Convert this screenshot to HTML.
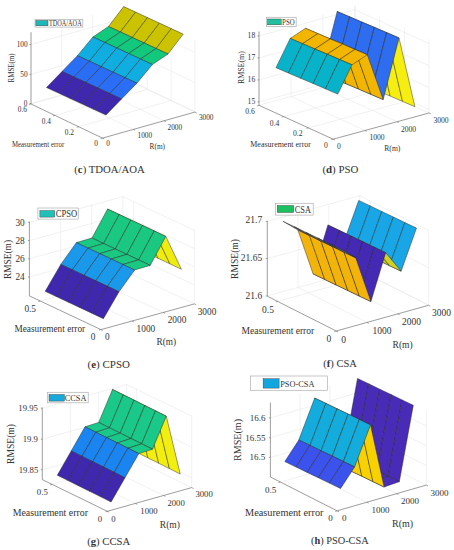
<!DOCTYPE html>
<html><head><meta charset="utf-8"><style>
html,body{margin:0;padding:0;background:#fff;}
svg{display:block;font-family:"Liberation Serif",serif;fill:#262626;}
text{fill:#333;}
</style></head><body>
<svg width="454" height="550" viewBox="0 0 454 550">
<rect width="454" height="550" fill="#fff"/>
<line x1="31.0" y1="103.5" x2="123.4" y2="77.5" stroke="#e8e8e8" stroke-width="0.6"/>
<line x1="123.4" y1="77.5" x2="194.9" y2="111.6" stroke="#e8e8e8" stroke-width="0.6"/>
<line x1="31.0" y1="74.4" x2="123.4" y2="48.4" stroke="#e8e8e8" stroke-width="0.6"/>
<line x1="123.4" y1="48.4" x2="194.9" y2="82.5" stroke="#e8e8e8" stroke-width="0.6"/>
<line x1="31.0" y1="44.5" x2="123.4" y2="18.5" stroke="#e8e8e8" stroke-width="0.6"/>
<line x1="123.4" y1="18.5" x2="194.9" y2="52.6" stroke="#e8e8e8" stroke-width="0.6"/>
<line x1="31.0" y1="104.0" x2="31.0" y2="32.2" stroke="#e8e8e8" stroke-width="0.6"/>
<line x1="102.5" y1="138.1" x2="31.0" y2="104.0" stroke="#e8e8e8" stroke-width="0.6"/>
<line x1="61.8" y1="95.3" x2="61.8" y2="23.5" stroke="#e8e8e8" stroke-width="0.6"/>
<line x1="133.3" y1="129.4" x2="61.8" y2="95.3" stroke="#e8e8e8" stroke-width="0.6"/>
<line x1="92.6" y1="86.7" x2="92.6" y2="14.9" stroke="#e8e8e8" stroke-width="0.6"/>
<line x1="164.1" y1="120.8" x2="92.6" y2="86.7" stroke="#e8e8e8" stroke-width="0.6"/>
<line x1="123.4" y1="78.0" x2="123.4" y2="6.2" stroke="#e8e8e8" stroke-width="0.6"/>
<line x1="194.9" y1="112.1" x2="123.4" y2="78.0" stroke="#e8e8e8" stroke-width="0.6"/>
<line x1="194.9" y1="112.1" x2="194.9" y2="40.3" stroke="#e8e8e8" stroke-width="0.6"/>
<line x1="102.5" y1="138.1" x2="194.9" y2="112.1" stroke="#e8e8e8" stroke-width="0.6"/>
<line x1="171.1" y1="100.7" x2="171.1" y2="28.9" stroke="#e8e8e8" stroke-width="0.6"/>
<line x1="78.7" y1="126.7" x2="171.1" y2="100.7" stroke="#e8e8e8" stroke-width="0.6"/>
<line x1="147.2" y1="89.4" x2="147.2" y2="17.6" stroke="#e8e8e8" stroke-width="0.6"/>
<line x1="54.8" y1="115.4" x2="147.2" y2="89.4" stroke="#e8e8e8" stroke-width="0.6"/>
<line x1="123.4" y1="78.0" x2="123.4" y2="6.2" stroke="#e8e8e8" stroke-width="0.6"/>
<line x1="31.0" y1="104.0" x2="123.4" y2="78.0" stroke="#e8e8e8" stroke-width="0.6"/>
<line x1="31.0" y1="32.2" x2="31.0" y2="104.0" stroke="#6a6a6a" stroke-width="0.6"/>
<line x1="31.0" y1="104.0" x2="102.5" y2="138.1" stroke="#6a6a6a" stroke-width="0.6"/>
<line x1="102.5" y1="138.1" x2="194.9" y2="112.1" stroke="#6a6a6a" stroke-width="0.6"/>
<line x1="31.0" y1="103.5" x2="29.5" y2="103.5" stroke="#6a6a6a" stroke-width="0.6"/>
<line x1="31.0" y1="74.4" x2="29.5" y2="74.4" stroke="#6a6a6a" stroke-width="0.6"/>
<line x1="31.0" y1="44.5" x2="29.5" y2="44.5" stroke="#6a6a6a" stroke-width="0.6"/>
<line x1="102.5" y1="138.1" x2="104.3" y2="139.0" stroke="#6a6a6a" stroke-width="0.6"/>
<line x1="133.3" y1="129.4" x2="135.1" y2="130.3" stroke="#6a6a6a" stroke-width="0.6"/>
<line x1="164.1" y1="120.8" x2="165.9" y2="121.6" stroke="#6a6a6a" stroke-width="0.6"/>
<line x1="194.9" y1="112.1" x2="196.7" y2="113.0" stroke="#6a6a6a" stroke-width="0.6"/>
<line x1="102.5" y1="138.1" x2="100.6" y2="138.6" stroke="#6a6a6a" stroke-width="0.6"/>
<line x1="78.7" y1="126.7" x2="76.7" y2="127.3" stroke="#6a6a6a" stroke-width="0.6"/>
<line x1="54.8" y1="115.4" x2="52.9" y2="115.9" stroke="#6a6a6a" stroke-width="0.6"/>
<line x1="31.0" y1="104.0" x2="29.1" y2="104.5" stroke="#6a6a6a" stroke-width="0.6"/>
<polygon points="108.5,26.5 120.4,32.0 135.6,12.1 123.7,6.6" fill="#cbc300" stroke="#222" stroke-width="0.45" stroke-linejoin="round"/>
<polygon points="120.4,32.0 132.3,37.5 147.5,17.6 135.6,12.1" fill="#cbc300" stroke="#222" stroke-width="0.45" stroke-linejoin="round"/>
<polygon points="132.3,37.5 144.2,43.0 159.4,23.1 147.5,17.6" fill="#cbc300" stroke="#222" stroke-width="0.45" stroke-linejoin="round"/>
<polygon points="144.2,43.0 156.1,48.5 171.3,28.6 159.4,23.1" fill="#cbc300" stroke="#222" stroke-width="0.45" stroke-linejoin="round"/>
<polygon points="156.1,48.5 168.0,54.0 183.2,34.1 171.3,28.6" fill="#cbc300" stroke="#222" stroke-width="0.45" stroke-linejoin="round"/>
<polygon points="92.9,37.0 104.8,42.5 120.4,32.0 108.5,26.5" fill="#12c87c" stroke="#222" stroke-width="0.45" stroke-linejoin="round"/>
<polygon points="104.8,42.5 116.7,48.0 132.3,37.5 120.4,32.0" fill="#12c87c" stroke="#222" stroke-width="0.45" stroke-linejoin="round"/>
<polygon points="116.7,48.0 128.6,53.5 144.2,43.0 132.3,37.5" fill="#12c87c" stroke="#222" stroke-width="0.45" stroke-linejoin="round"/>
<polygon points="128.6,53.5 140.5,59.0 156.1,48.5 144.2,43.0" fill="#12c87c" stroke="#222" stroke-width="0.45" stroke-linejoin="round"/>
<polygon points="140.5,59.0 152.4,64.5 168.0,54.0 156.1,48.5" fill="#12c87c" stroke="#222" stroke-width="0.45" stroke-linejoin="round"/>
<polygon points="77.4,55.7 89.3,61.2 104.8,42.5 92.9,37.0" fill="#10aee0" stroke="#222" stroke-width="0.45" stroke-linejoin="round"/>
<polygon points="89.3,61.2 101.2,66.7 116.7,48.0 104.8,42.5" fill="#10aee0" stroke="#222" stroke-width="0.45" stroke-linejoin="round"/>
<polygon points="101.2,66.7 113.1,72.2 128.6,53.5 116.7,48.0" fill="#10aee0" stroke="#222" stroke-width="0.45" stroke-linejoin="round"/>
<polygon points="113.1,72.2 125.0,77.7 140.5,59.0 128.6,53.5" fill="#10aee0" stroke="#222" stroke-width="0.45" stroke-linejoin="round"/>
<polygon points="125.0,77.7 136.9,83.2 152.4,64.5 140.5,59.0" fill="#10aee0" stroke="#222" stroke-width="0.45" stroke-linejoin="round"/>
<polygon points="62.0,71.5 73.9,77.0 89.3,61.2 77.4,55.7" fill="#2a6ef6" stroke="#222" stroke-width="0.45" stroke-linejoin="round"/>
<polygon points="73.9,77.0 85.8,82.5 101.2,66.7 89.3,61.2" fill="#2a6ef6" stroke="#222" stroke-width="0.45" stroke-linejoin="round"/>
<polygon points="85.8,82.5 97.7,88.0 113.1,72.2 101.2,66.7" fill="#2a6ef6" stroke="#222" stroke-width="0.45" stroke-linejoin="round"/>
<polygon points="97.7,88.0 109.6,93.5 125.0,77.7 113.1,72.2" fill="#2a6ef6" stroke="#222" stroke-width="0.45" stroke-linejoin="round"/>
<polygon points="109.6,93.5 121.5,99.0 136.9,83.2 125.0,77.7" fill="#2a6ef6" stroke="#222" stroke-width="0.45" stroke-linejoin="round"/>
<polygon points="46.5,87.5 58.4,93.0 73.9,77.0 62.0,71.5" fill="#3f28ae" stroke="#222" stroke-width="0.45" stroke-linejoin="round"/>
<polygon points="58.4,93.0 70.3,98.5 85.8,82.5 73.9,77.0" fill="#3f28ae" stroke="#222" stroke-width="0.45" stroke-linejoin="round"/>
<polygon points="70.3,98.5 82.2,104.0 97.7,88.0 85.8,82.5" fill="#3f28ae" stroke="#222" stroke-width="0.45" stroke-linejoin="round"/>
<polygon points="82.2,104.0 94.1,109.5 109.6,93.5 97.7,88.0" fill="#3f28ae" stroke="#222" stroke-width="0.45" stroke-linejoin="round"/>
<polygon points="94.1,109.5 106.0,115.0 121.5,99.0 109.6,93.5" fill="#3f28ae" stroke="#222" stroke-width="0.45" stroke-linejoin="round"/>
<text x="27.3" y="105.6" font-size="7.30" text-anchor="end">0</text>
<text x="27.6" y="76.6" font-size="7.30" text-anchor="end">50</text>
<text x="27.6" y="47.0" font-size="7.30" text-anchor="end">100</text>
<text x="22.3" y="112.2" font-size="7.30" text-anchor="middle">0.6</text>
<text x="46.3" y="123.6" font-size="7.30" text-anchor="middle">0.4</text>
<text x="69.3" y="134.7" font-size="7.30" text-anchor="middle">0.2</text>
<text x="96.0" y="145.5" font-size="7.30" text-anchor="middle">0</text>
<text x="108.0" y="146.2" font-size="7.30" text-anchor="middle">0</text>
<text x="144.8" y="137.8" font-size="7.30" text-anchor="middle">1000</text>
<text x="174.8" y="129.9" font-size="7.30" text-anchor="middle">2000</text>
<text x="206.2" y="120.4" font-size="7.30" text-anchor="middle">3000</text>
<text transform="translate(14.2,67.9) rotate(-90)" x="0" y="0" font-size="7.80" text-anchor="middle" textLength="29.0" lengthAdjust="spacingAndGlyphs">RMSE(m)</text>
<text x="11.9" y="147.2" font-size="7.80" textLength="52.3" lengthAdjust="spacingAndGlyphs">Measurement error</text>
<text x="157.3" y="148.8" font-size="7.30" text-anchor="middle">R(m)</text>
<rect x="35.0" y="19.4" width="47.8" height="7.7" fill="#fff" stroke="#b0b0b0" stroke-width="0.7"/>
<rect x="35.9" y="20.5" width="12.1" height="5.3" fill="#1fb8b8" stroke="#333" stroke-width="0.4"/>
<text x="48.9" y="25.7" font-size="7.30" textLength="32.8" lengthAdjust="spacingAndGlyphs">TDOA/AOA</text>
<text x="74.3" y="172.5" font-size="10.50" textLength="70.5" lengthAdjust="spacingAndGlyphs">(<tspan font-weight="bold">c</tspan>) TDOA/AOA</text>
<line x1="259.0" y1="101.9" x2="354.9" y2="75.7" stroke="#e8e8e8" stroke-width="0.6"/>
<line x1="354.9" y1="75.7" x2="429.0" y2="109.6" stroke="#e8e8e8" stroke-width="0.6"/>
<line x1="259.0" y1="79.9" x2="354.9" y2="53.7" stroke="#e8e8e8" stroke-width="0.6"/>
<line x1="354.9" y1="53.7" x2="429.0" y2="87.6" stroke="#e8e8e8" stroke-width="0.6"/>
<line x1="259.0" y1="57.9" x2="354.9" y2="31.7" stroke="#e8e8e8" stroke-width="0.6"/>
<line x1="354.9" y1="31.7" x2="429.0" y2="65.6" stroke="#e8e8e8" stroke-width="0.6"/>
<line x1="259.0" y1="35.9" x2="354.9" y2="9.7" stroke="#e8e8e8" stroke-width="0.6"/>
<line x1="354.9" y1="9.7" x2="429.0" y2="43.6" stroke="#e8e8e8" stroke-width="0.6"/>
<line x1="259.0" y1="105.3" x2="259.0" y2="31.5" stroke="#e8e8e8" stroke-width="0.6"/>
<line x1="333.1" y1="139.2" x2="259.0" y2="105.3" stroke="#e8e8e8" stroke-width="0.6"/>
<line x1="291.0" y1="96.6" x2="291.0" y2="22.8" stroke="#e8e8e8" stroke-width="0.6"/>
<line x1="365.1" y1="130.5" x2="291.0" y2="96.6" stroke="#e8e8e8" stroke-width="0.6"/>
<line x1="322.9" y1="87.8" x2="322.9" y2="14.0" stroke="#e8e8e8" stroke-width="0.6"/>
<line x1="397.0" y1="121.7" x2="322.9" y2="87.8" stroke="#e8e8e8" stroke-width="0.6"/>
<line x1="354.9" y1="79.1" x2="354.9" y2="5.3" stroke="#e8e8e8" stroke-width="0.6"/>
<line x1="429.0" y1="113.0" x2="354.9" y2="79.1" stroke="#e8e8e8" stroke-width="0.6"/>
<line x1="429.0" y1="113.0" x2="429.0" y2="39.2" stroke="#e8e8e8" stroke-width="0.6"/>
<line x1="333.1" y1="139.2" x2="429.0" y2="113.0" stroke="#e8e8e8" stroke-width="0.6"/>
<line x1="404.3" y1="101.7" x2="404.3" y2="27.9" stroke="#e8e8e8" stroke-width="0.6"/>
<line x1="308.4" y1="127.9" x2="404.3" y2="101.7" stroke="#e8e8e8" stroke-width="0.6"/>
<line x1="379.6" y1="90.4" x2="379.6" y2="16.6" stroke="#e8e8e8" stroke-width="0.6"/>
<line x1="283.7" y1="116.6" x2="379.6" y2="90.4" stroke="#e8e8e8" stroke-width="0.6"/>
<line x1="354.9" y1="79.1" x2="354.9" y2="5.3" stroke="#e8e8e8" stroke-width="0.6"/>
<line x1="259.0" y1="105.3" x2="354.9" y2="79.1" stroke="#e8e8e8" stroke-width="0.6"/>
<line x1="259.0" y1="31.5" x2="259.0" y2="105.3" stroke="#6a6a6a" stroke-width="0.6"/>
<line x1="259.0" y1="105.3" x2="333.1" y2="139.2" stroke="#6a6a6a" stroke-width="0.6"/>
<line x1="333.1" y1="139.2" x2="429.0" y2="113.0" stroke="#6a6a6a" stroke-width="0.6"/>
<line x1="259.0" y1="101.9" x2="257.5" y2="101.9" stroke="#6a6a6a" stroke-width="0.6"/>
<line x1="259.0" y1="79.9" x2="257.5" y2="79.9" stroke="#6a6a6a" stroke-width="0.6"/>
<line x1="259.0" y1="57.9" x2="257.5" y2="57.9" stroke="#6a6a6a" stroke-width="0.6"/>
<line x1="259.0" y1="35.9" x2="257.5" y2="35.9" stroke="#6a6a6a" stroke-width="0.6"/>
<line x1="333.1" y1="139.2" x2="334.9" y2="140.0" stroke="#6a6a6a" stroke-width="0.6"/>
<line x1="365.1" y1="130.5" x2="366.9" y2="131.3" stroke="#6a6a6a" stroke-width="0.6"/>
<line x1="397.0" y1="121.7" x2="398.9" y2="122.6" stroke="#6a6a6a" stroke-width="0.6"/>
<line x1="429.0" y1="113.0" x2="430.8" y2="113.8" stroke="#6a6a6a" stroke-width="0.6"/>
<line x1="333.1" y1="139.2" x2="331.2" y2="139.7" stroke="#6a6a6a" stroke-width="0.6"/>
<line x1="308.4" y1="127.9" x2="306.5" y2="128.4" stroke="#6a6a6a" stroke-width="0.6"/>
<line x1="283.7" y1="116.6" x2="281.8" y2="117.1" stroke="#6a6a6a" stroke-width="0.6"/>
<line x1="259.0" y1="105.3" x2="257.1" y2="105.8" stroke="#6a6a6a" stroke-width="0.6"/>
<polygon points="337.2,11.5 349.6,16.8 365.5,85.6 353.1,80.3" fill="#f5ee10" stroke="#222" stroke-width="0.45" stroke-linejoin="round"/>
<polygon points="349.6,16.8 361.9,22.1 377.8,90.9 365.5,85.6" fill="#f5ee10" stroke="#222" stroke-width="0.45" stroke-linejoin="round"/>
<polygon points="361.9,22.1 374.3,27.3 390.2,96.1 377.8,90.9" fill="#f5ee10" stroke="#222" stroke-width="0.45" stroke-linejoin="round"/>
<polygon points="374.3,27.3 386.6,32.6 402.5,101.4 390.2,96.1" fill="#f5ee10" stroke="#222" stroke-width="0.45" stroke-linejoin="round"/>
<polygon points="386.6,32.6 399.0,37.9 414.9,106.7 402.5,101.4" fill="#f5ee10" stroke="#222" stroke-width="0.45" stroke-linejoin="round"/>
<polygon points="321.4,73.2 333.8,78.5 349.6,16.8 337.2,11.5" fill="#2e6cf0" stroke="#222" stroke-width="0.45" stroke-linejoin="round"/>
<polygon points="333.8,78.5 346.1,83.8 361.9,22.1 349.6,16.8" fill="#2e6cf0" stroke="#222" stroke-width="0.45" stroke-linejoin="round"/>
<polygon points="346.1,83.8 358.5,89.0 374.3,27.3 361.9,22.1" fill="#2e6cf0" stroke="#222" stroke-width="0.45" stroke-linejoin="round"/>
<polygon points="358.5,89.0 370.8,94.3 386.6,32.6 374.3,27.3" fill="#2e6cf0" stroke="#222" stroke-width="0.45" stroke-linejoin="round"/>
<polygon points="370.8,94.3 383.2,99.6 399.0,37.9 386.6,32.6" fill="#2e6cf0" stroke="#222" stroke-width="0.45" stroke-linejoin="round"/>
<polygon points="305.5,28.3 317.9,33.6 333.8,78.5 321.4,73.2" fill="#f2b600" stroke="#222" stroke-width="0.45" stroke-linejoin="round"/>
<polygon points="317.9,33.6 330.2,38.9 346.1,83.8 333.8,78.5" fill="#f2b600" stroke="#222" stroke-width="0.45" stroke-linejoin="round"/>
<polygon points="330.2,38.9 342.6,44.1 358.5,89.0 346.1,83.8" fill="#f2b600" stroke="#222" stroke-width="0.45" stroke-linejoin="round"/>
<polygon points="342.6,44.1 354.9,49.4 370.8,94.3 358.5,89.0" fill="#f2b600" stroke="#222" stroke-width="0.45" stroke-linejoin="round"/>
<polygon points="354.9,49.4 367.3,54.7 383.2,99.6 370.8,94.3" fill="#f2b600" stroke="#222" stroke-width="0.45" stroke-linejoin="round"/>
<polygon points="290.2,38.4 302.6,43.7 317.9,33.6 305.5,28.3" fill="#f2b600" stroke="#222" stroke-width="0.45" stroke-linejoin="round"/>
<polygon points="302.6,43.7 314.9,49.0 330.2,38.9 317.9,33.6" fill="#f2b600" stroke="#222" stroke-width="0.45" stroke-linejoin="round"/>
<polygon points="314.9,49.0 327.3,54.2 342.6,44.1 330.2,38.9" fill="#f2b600" stroke="#222" stroke-width="0.45" stroke-linejoin="round"/>
<polygon points="327.3,54.2 339.6,59.5 354.9,49.4 342.6,44.1" fill="#f2b600" stroke="#222" stroke-width="0.45" stroke-linejoin="round"/>
<polygon points="339.6,59.5 352.0,64.8 367.3,54.7 354.9,49.4" fill="#f2b600" stroke="#222" stroke-width="0.45" stroke-linejoin="round"/>
<polygon points="276.0,67.7 288.4,73.0 302.6,43.7 290.2,38.4" fill="#08b2c8" stroke="#222" stroke-width="0.45" stroke-linejoin="round"/>
<polygon points="288.4,73.0 300.7,78.3 314.9,49.0 302.6,43.7" fill="#08b2c8" stroke="#222" stroke-width="0.45" stroke-linejoin="round"/>
<polygon points="300.7,78.3 313.1,83.5 327.3,54.2 314.9,49.0" fill="#08b2c8" stroke="#222" stroke-width="0.45" stroke-linejoin="round"/>
<polygon points="313.1,83.5 325.4,88.8 339.6,59.5 327.3,54.2" fill="#08b2c8" stroke="#222" stroke-width="0.45" stroke-linejoin="round"/>
<polygon points="325.4,88.8 337.8,94.1 352.0,64.8 339.6,59.5" fill="#08b2c8" stroke="#222" stroke-width="0.45" stroke-linejoin="round"/>
<text x="255.2" y="104.2" font-size="7.60" text-anchor="end">15</text>
<text x="255.2" y="82.4" font-size="7.60" text-anchor="end">16</text>
<text x="255.2" y="60.4" font-size="7.60" text-anchor="end">17</text>
<text x="255.2" y="38.4" font-size="7.60" text-anchor="end">18</text>
<text x="250.0" y="113.9" font-size="7.60" text-anchor="middle">0.6</text>
<text x="274.6" y="125.5" font-size="7.60" text-anchor="middle">0.4</text>
<text x="297.8" y="136.1" font-size="7.60" text-anchor="middle">0.2</text>
<text x="325.9" y="147.9" font-size="7.60" text-anchor="middle">0</text>
<text x="338.9" y="148.5" font-size="7.60" text-anchor="middle">0</text>
<text x="377.0" y="140.3" font-size="7.60" text-anchor="middle">1000</text>
<text x="408.5" y="131.8" font-size="7.60" text-anchor="middle">2000</text>
<text x="441.0" y="122.7" font-size="7.60" text-anchor="middle">3000</text>
<text transform="translate(243.6,67.6) rotate(-90)" x="0" y="0" font-size="7.90" text-anchor="middle" textLength="33.0" lengthAdjust="spacingAndGlyphs">RMSE(m)</text>
<text x="250.3" y="147.3" font-size="7.90" textLength="60.7" lengthAdjust="spacingAndGlyphs">Measurement error</text>
<text x="392.3" y="151.3" font-size="7.60" text-anchor="middle">R(m)</text>
<rect x="266.6" y="17.3" width="29.6" height="9.2" fill="#fff" stroke="#b0b0b0" stroke-width="0.7"/>
<rect x="267.6" y="19.0" width="13.6" height="5.8" fill="#22c0a0" stroke="#333" stroke-width="0.4"/>
<text x="282.1" y="24.8" font-size="7.80" textLength="12.5" lengthAdjust="spacingAndGlyphs">PSO</text>
<text x="322.4" y="172.7" font-size="10.50" textLength="36.0" lengthAdjust="spacingAndGlyphs">(<tspan font-weight="bold">d</tspan>) PSO</text>
<line x1="29.4" y1="222.4" x2="122.9" y2="196.7" stroke="#e8e8e8" stroke-width="0.6"/>
<line x1="122.9" y1="196.7" x2="194.4" y2="230.4" stroke="#e8e8e8" stroke-width="0.6"/>
<line x1="29.4" y1="240.6" x2="122.9" y2="214.9" stroke="#e8e8e8" stroke-width="0.6"/>
<line x1="122.9" y1="214.9" x2="194.4" y2="248.6" stroke="#e8e8e8" stroke-width="0.6"/>
<line x1="29.4" y1="258.8" x2="122.9" y2="233.1" stroke="#e8e8e8" stroke-width="0.6"/>
<line x1="122.9" y1="233.1" x2="194.4" y2="266.8" stroke="#e8e8e8" stroke-width="0.6"/>
<line x1="29.4" y1="277.0" x2="122.9" y2="251.3" stroke="#e8e8e8" stroke-width="0.6"/>
<line x1="122.9" y1="251.3" x2="194.4" y2="285.0" stroke="#e8e8e8" stroke-width="0.6"/>
<line x1="29.4" y1="295.9" x2="29.4" y2="221.5" stroke="#e8e8e8" stroke-width="0.6"/>
<line x1="100.9" y1="329.6" x2="29.4" y2="295.9" stroke="#e8e8e8" stroke-width="0.6"/>
<line x1="60.6" y1="287.3" x2="60.6" y2="212.9" stroke="#e8e8e8" stroke-width="0.6"/>
<line x1="132.1" y1="321.0" x2="60.6" y2="287.3" stroke="#e8e8e8" stroke-width="0.6"/>
<line x1="91.7" y1="278.8" x2="91.7" y2="204.4" stroke="#e8e8e8" stroke-width="0.6"/>
<line x1="163.2" y1="312.5" x2="91.7" y2="278.8" stroke="#e8e8e8" stroke-width="0.6"/>
<line x1="122.9" y1="270.2" x2="122.9" y2="195.8" stroke="#e8e8e8" stroke-width="0.6"/>
<line x1="194.4" y1="303.9" x2="122.9" y2="270.2" stroke="#e8e8e8" stroke-width="0.6"/>
<line x1="194.4" y1="303.9" x2="194.4" y2="229.5" stroke="#e8e8e8" stroke-width="0.6"/>
<line x1="100.9" y1="329.6" x2="194.4" y2="303.9" stroke="#e8e8e8" stroke-width="0.6"/>
<line x1="133.6" y1="275.3" x2="133.6" y2="200.9" stroke="#e8e8e8" stroke-width="0.6"/>
<line x1="40.1" y1="301.0" x2="133.6" y2="275.3" stroke="#e8e8e8" stroke-width="0.6"/>
<line x1="29.4" y1="221.5" x2="29.4" y2="295.9" stroke="#6a6a6a" stroke-width="0.6"/>
<line x1="29.4" y1="295.9" x2="100.9" y2="329.6" stroke="#6a6a6a" stroke-width="0.6"/>
<line x1="100.9" y1="329.6" x2="194.4" y2="303.9" stroke="#6a6a6a" stroke-width="0.6"/>
<line x1="29.4" y1="222.4" x2="27.9" y2="222.4" stroke="#6a6a6a" stroke-width="0.6"/>
<line x1="29.4" y1="240.6" x2="27.9" y2="240.6" stroke="#6a6a6a" stroke-width="0.6"/>
<line x1="29.4" y1="258.8" x2="27.9" y2="258.8" stroke="#6a6a6a" stroke-width="0.6"/>
<line x1="29.4" y1="277.0" x2="27.9" y2="277.0" stroke="#6a6a6a" stroke-width="0.6"/>
<line x1="100.9" y1="329.6" x2="102.7" y2="330.5" stroke="#6a6a6a" stroke-width="0.6"/>
<line x1="132.1" y1="321.0" x2="133.9" y2="321.9" stroke="#6a6a6a" stroke-width="0.6"/>
<line x1="163.2" y1="312.5" x2="165.0" y2="313.3" stroke="#6a6a6a" stroke-width="0.6"/>
<line x1="194.4" y1="303.9" x2="196.2" y2="304.8" stroke="#6a6a6a" stroke-width="0.6"/>
<line x1="100.9" y1="329.6" x2="99.0" y2="330.1" stroke="#6a6a6a" stroke-width="0.6"/>
<line x1="40.1" y1="301.0" x2="38.2" y2="301.5" stroke="#6a6a6a" stroke-width="0.6"/>
<polygon points="107.6,209.0 119.2,214.5 134.8,247.4 123.2,241.9" fill="#f0ec10" stroke="#222" stroke-width="0.45" stroke-linejoin="round"/>
<polygon points="119.2,214.5 130.9,220.0 146.5,252.9 134.8,247.4" fill="#f0ec10" stroke="#222" stroke-width="0.45" stroke-linejoin="round"/>
<polygon points="130.9,220.0 142.5,225.4 158.1,258.3 146.5,252.9" fill="#f0ec10" stroke="#222" stroke-width="0.45" stroke-linejoin="round"/>
<polygon points="142.5,225.4 154.2,230.9 169.8,263.8 158.1,258.3" fill="#f0ec10" stroke="#222" stroke-width="0.45" stroke-linejoin="round"/>
<polygon points="154.2,230.9 165.8,236.4 181.4,269.3 169.8,263.8" fill="#f0ec10" stroke="#222" stroke-width="0.45" stroke-linejoin="round"/>
<polygon points="92.0,238.0 103.6,243.5 119.2,214.5 107.6,209.0" fill="#1ac882" stroke="#222" stroke-width="0.45" stroke-linejoin="round"/>
<polygon points="103.6,243.5 115.3,249.0 130.9,220.0 119.2,214.5" fill="#1ac882" stroke="#222" stroke-width="0.45" stroke-linejoin="round"/>
<polygon points="115.3,249.0 126.9,254.4 142.5,225.4 130.9,220.0" fill="#1ac882" stroke="#222" stroke-width="0.45" stroke-linejoin="round"/>
<polygon points="126.9,254.4 138.6,259.9 154.2,230.9 142.5,225.4" fill="#1ac882" stroke="#222" stroke-width="0.45" stroke-linejoin="round"/>
<polygon points="138.6,259.9 150.2,265.4 165.8,236.4 154.2,230.9" fill="#1ac882" stroke="#222" stroke-width="0.45" stroke-linejoin="round"/>
<polygon points="76.4,242.6 88.0,248.1 103.6,243.5 92.0,238.0" fill="#1ac882" stroke="#222" stroke-width="0.45" stroke-linejoin="round"/>
<polygon points="88.0,248.1 99.7,253.6 115.3,249.0 103.6,243.5" fill="#1ac882" stroke="#222" stroke-width="0.45" stroke-linejoin="round"/>
<polygon points="99.7,253.6 111.3,259.0 126.9,254.4 115.3,249.0" fill="#1ac882" stroke="#222" stroke-width="0.45" stroke-linejoin="round"/>
<polygon points="111.3,259.0 123.0,264.5 138.6,259.9 126.9,254.4" fill="#1ac882" stroke="#222" stroke-width="0.45" stroke-linejoin="round"/>
<polygon points="123.0,264.5 134.6,270.0 150.2,265.4 138.6,259.9" fill="#1ac882" stroke="#222" stroke-width="0.45" stroke-linejoin="round"/>
<polygon points="60.8,264.4 72.4,269.9 88.0,248.1 76.4,242.6" fill="#1a98ea" stroke="#222" stroke-width="0.45" stroke-linejoin="round"/>
<polygon points="72.4,269.9 84.1,275.4 99.7,253.6 88.0,248.1" fill="#1a98ea" stroke="#222" stroke-width="0.45" stroke-linejoin="round"/>
<polygon points="84.1,275.4 95.7,280.8 111.3,259.0 99.7,253.6" fill="#1a98ea" stroke="#222" stroke-width="0.45" stroke-linejoin="round"/>
<polygon points="95.7,280.8 107.4,286.3 123.0,264.5 111.3,259.0" fill="#1a98ea" stroke="#222" stroke-width="0.45" stroke-linejoin="round"/>
<polygon points="107.4,286.3 119.0,291.8 134.6,270.0 123.0,264.5" fill="#1a98ea" stroke="#222" stroke-width="0.45" stroke-linejoin="round"/>
<polygon points="45.2,291.3 56.8,296.8 72.4,269.9 60.8,264.4" fill="#3f28ae" stroke="#222" stroke-width="0.45" stroke-linejoin="round"/>
<polygon points="56.8,296.8 68.5,302.3 84.1,275.4 72.4,269.9" fill="#3f28ae" stroke="#222" stroke-width="0.45" stroke-linejoin="round"/>
<polygon points="68.5,302.3 80.1,307.7 95.7,280.8 84.1,275.4" fill="#3f28ae" stroke="#222" stroke-width="0.45" stroke-linejoin="round"/>
<polygon points="80.1,307.7 91.8,313.2 107.4,286.3 95.7,280.8" fill="#3f28ae" stroke="#222" stroke-width="0.45" stroke-linejoin="round"/>
<polygon points="91.8,313.2 103.4,318.7 119.0,291.8 107.4,286.3" fill="#3f28ae" stroke="#222" stroke-width="0.45" stroke-linejoin="round"/>
<text x="24.7" y="225.5" font-size="9.30" text-anchor="end">30</text>
<text x="24.7" y="243.7" font-size="9.30" text-anchor="end">28</text>
<text x="24.7" y="261.9" font-size="9.30" text-anchor="end">26</text>
<text x="24.7" y="280.1" font-size="9.30" text-anchor="end">24</text>
<text x="30.2" y="311.8" font-size="9.30" text-anchor="middle">0.5</text>
<text x="93.0" y="339.8" font-size="9.30" text-anchor="middle">0</text>
<text x="107.3" y="339.9" font-size="9.30" text-anchor="middle">0</text>
<text x="145.9" y="332.0" font-size="9.30" text-anchor="middle">1000</text>
<text x="177.0" y="323.3" font-size="9.30" text-anchor="middle">2000</text>
<text x="207.0" y="314.6" font-size="9.30" text-anchor="middle">3000</text>
<text transform="translate(11.3,259.5) rotate(-90)" x="0" y="0" font-size="9.40" text-anchor="middle" textLength="39.1" lengthAdjust="spacingAndGlyphs">RMSE(m)</text>
<text x="14.5" y="332.4" font-size="9.50" textLength="70.6" lengthAdjust="spacingAndGlyphs">Measurement error</text>
<text x="166.3" y="344.5" font-size="9.30" text-anchor="middle">R(m)</text>
<rect x="37.9" y="208.0" width="40.4" height="11.1" fill="#fff" stroke="#b0b0b0" stroke-width="0.7"/>
<rect x="39.9" y="210.6" width="14.8" height="6.5" fill="#20c0b8" stroke="#333" stroke-width="0.4"/>
<text x="55.8" y="217.0" font-size="9.40" textLength="21.5" lengthAdjust="spacingAndGlyphs">CPSO</text>
<text x="87.6" y="367.6" font-size="11.00" textLength="42.3" lengthAdjust="spacingAndGlyphs">(<tspan font-weight="bold">e</tspan>) CPSO</text>
<line x1="267.3" y1="221.4" x2="359.7" y2="195.7" stroke="#e8e8e8" stroke-width="0.6"/>
<line x1="359.7" y1="195.7" x2="428.6" y2="230.5" stroke="#e8e8e8" stroke-width="0.6"/>
<line x1="267.3" y1="258.6" x2="359.7" y2="232.9" stroke="#e8e8e8" stroke-width="0.6"/>
<line x1="359.7" y1="232.9" x2="428.6" y2="267.7" stroke="#e8e8e8" stroke-width="0.6"/>
<line x1="267.3" y1="296.0" x2="359.7" y2="270.3" stroke="#e8e8e8" stroke-width="0.6"/>
<line x1="359.7" y1="270.3" x2="428.6" y2="305.1" stroke="#e8e8e8" stroke-width="0.6"/>
<line x1="267.3" y1="296.2" x2="267.3" y2="220.8" stroke="#e8e8e8" stroke-width="0.6"/>
<line x1="336.2" y1="331.0" x2="267.3" y2="296.2" stroke="#e8e8e8" stroke-width="0.6"/>
<line x1="298.1" y1="287.6" x2="298.1" y2="212.2" stroke="#e8e8e8" stroke-width="0.6"/>
<line x1="367.0" y1="322.4" x2="298.1" y2="287.6" stroke="#e8e8e8" stroke-width="0.6"/>
<line x1="328.9" y1="279.1" x2="328.9" y2="203.7" stroke="#e8e8e8" stroke-width="0.6"/>
<line x1="397.8" y1="313.9" x2="328.9" y2="279.1" stroke="#e8e8e8" stroke-width="0.6"/>
<line x1="359.7" y1="270.5" x2="359.7" y2="195.1" stroke="#e8e8e8" stroke-width="0.6"/>
<line x1="428.6" y1="305.3" x2="359.7" y2="270.5" stroke="#e8e8e8" stroke-width="0.6"/>
<line x1="428.6" y1="305.3" x2="428.6" y2="229.9" stroke="#e8e8e8" stroke-width="0.6"/>
<line x1="336.2" y1="331.0" x2="428.6" y2="305.3" stroke="#e8e8e8" stroke-width="0.6"/>
<line x1="370.0" y1="275.7" x2="370.0" y2="200.3" stroke="#e8e8e8" stroke-width="0.6"/>
<line x1="277.6" y1="301.4" x2="370.0" y2="275.7" stroke="#e8e8e8" stroke-width="0.6"/>
<line x1="267.3" y1="220.8" x2="267.3" y2="296.2" stroke="#6a6a6a" stroke-width="0.6"/>
<line x1="267.3" y1="296.2" x2="336.2" y2="331.0" stroke="#6a6a6a" stroke-width="0.6"/>
<line x1="336.2" y1="331.0" x2="428.6" y2="305.3" stroke="#6a6a6a" stroke-width="0.6"/>
<line x1="267.3" y1="221.4" x2="265.8" y2="221.4" stroke="#6a6a6a" stroke-width="0.6"/>
<line x1="267.3" y1="258.6" x2="265.8" y2="258.6" stroke="#6a6a6a" stroke-width="0.6"/>
<line x1="267.3" y1="296.0" x2="265.8" y2="296.0" stroke="#6a6a6a" stroke-width="0.6"/>
<line x1="336.2" y1="331.0" x2="338.0" y2="331.9" stroke="#6a6a6a" stroke-width="0.6"/>
<line x1="367.0" y1="322.4" x2="368.8" y2="323.3" stroke="#6a6a6a" stroke-width="0.6"/>
<line x1="397.8" y1="313.9" x2="399.6" y2="314.8" stroke="#6a6a6a" stroke-width="0.6"/>
<line x1="428.6" y1="305.3" x2="430.4" y2="306.2" stroke="#6a6a6a" stroke-width="0.6"/>
<line x1="336.2" y1="331.0" x2="334.3" y2="331.5" stroke="#6a6a6a" stroke-width="0.6"/>
<line x1="277.6" y1="301.4" x2="275.7" y2="302.0" stroke="#6a6a6a" stroke-width="0.6"/>
<polygon points="343.3,243.5 354.9,249.0 370.3,205.9 358.7,200.4" fill="#18a6e6" stroke="#222" stroke-width="0.45" stroke-linejoin="round"/>
<polygon points="354.9,249.0 366.4,254.6 381.8,211.5 370.3,205.9" fill="#18a6e6" stroke="#222" stroke-width="0.45" stroke-linejoin="round"/>
<polygon points="366.4,254.6 378.0,260.1 393.4,217.0 381.8,211.5" fill="#18a6e6" stroke="#222" stroke-width="0.45" stroke-linejoin="round"/>
<polygon points="378.0,260.1 389.5,265.7 404.9,222.6 393.4,217.0" fill="#18a6e6" stroke="#222" stroke-width="0.45" stroke-linejoin="round"/>
<polygon points="389.5,265.7 401.1,271.2 416.5,228.1 404.9,222.6" fill="#18a6e6" stroke="#222" stroke-width="0.45" stroke-linejoin="round"/>
<polygon points="327.9,225.0 339.5,230.5 354.9,249.0 343.3,243.5" fill="#d2d020" stroke="#222" stroke-width="0.45" stroke-linejoin="round"/>
<polygon points="339.5,230.5 351.0,236.1 366.4,254.6 354.9,249.0" fill="#d2d020" stroke="#222" stroke-width="0.45" stroke-linejoin="round"/>
<polygon points="351.0,236.1 362.6,241.6 378.0,260.1 366.4,254.6" fill="#d2d020" stroke="#222" stroke-width="0.45" stroke-linejoin="round"/>
<polygon points="362.6,241.6 374.1,247.2 389.5,265.7 378.0,260.1" fill="#d2d020" stroke="#222" stroke-width="0.45" stroke-linejoin="round"/>
<polygon points="374.1,247.2 385.7,252.7 401.1,271.2 389.5,265.7" fill="#d2d020" stroke="#222" stroke-width="0.45" stroke-linejoin="round"/>
<polygon points="313.1,273.9 324.7,279.4 339.5,230.5 327.9,225.0" fill="#4429b4" stroke="#222" stroke-width="0.45" stroke-linejoin="round"/>
<polygon points="324.7,279.4 336.2,285.0 351.0,236.1 339.5,230.5" fill="#4429b4" stroke="#222" stroke-width="0.45" stroke-linejoin="round"/>
<polygon points="336.2,285.0 347.8,290.5 362.6,241.6 351.0,236.1" fill="#4429b4" stroke="#222" stroke-width="0.45" stroke-linejoin="round"/>
<polygon points="347.8,290.5 359.3,296.1 374.1,247.2 362.6,241.6" fill="#4429b4" stroke="#222" stroke-width="0.45" stroke-linejoin="round"/>
<polygon points="359.3,296.1 370.9,301.6 385.7,252.7 374.1,247.2" fill="#4429b4" stroke="#222" stroke-width="0.45" stroke-linejoin="round"/>
<polygon points="297.9,230.0 309.5,235.5 324.7,279.4 313.1,273.9" fill="#f2b40a" stroke="#222" stroke-width="0.45" stroke-linejoin="round"/>
<polygon points="309.5,235.5 321.0,241.1 336.2,285.0 324.7,279.4" fill="#f2b40a" stroke="#222" stroke-width="0.45" stroke-linejoin="round"/>
<polygon points="321.0,241.1 332.6,246.6 347.8,290.5 336.2,285.0" fill="#f2b40a" stroke="#222" stroke-width="0.45" stroke-linejoin="round"/>
<polygon points="332.6,246.6 344.1,252.2 359.3,296.1 347.8,290.5" fill="#f2b40a" stroke="#222" stroke-width="0.45" stroke-linejoin="round"/>
<polygon points="344.1,252.2 355.7,257.7 370.9,301.6 359.3,296.1" fill="#f2b40a" stroke="#222" stroke-width="0.45" stroke-linejoin="round"/>
<polygon points="282.9,221.3 294.5,226.8 309.5,235.5 297.9,230.0" fill="#777" stroke="#222" stroke-width="0.45" stroke-linejoin="round"/>
<polygon points="294.5,226.8 306.0,232.4 321.0,241.1 309.5,235.5" fill="#777" stroke="#222" stroke-width="0.45" stroke-linejoin="round"/>
<polygon points="306.0,232.4 317.6,237.9 332.6,246.6 321.0,241.1" fill="#777" stroke="#222" stroke-width="0.45" stroke-linejoin="round"/>
<polygon points="317.6,237.9 329.1,243.5 344.1,252.2 332.6,246.6" fill="#777" stroke="#222" stroke-width="0.45" stroke-linejoin="round"/>
<polygon points="329.1,243.5 340.7,249.0 355.7,257.7 344.1,252.2" fill="#777" stroke="#222" stroke-width="0.45" stroke-linejoin="round"/>
<text x="262.2" y="223.4" font-size="9.50" text-anchor="end">21.7</text>
<text x="262.2" y="261.3" font-size="9.50" text-anchor="end">21.65</text>
<text x="262.2" y="298.7" font-size="9.50" text-anchor="end">21.6</text>
<text x="268.0" y="313.3" font-size="9.50" text-anchor="middle">0.5</text>
<text x="328.9" y="341.9" font-size="9.50" text-anchor="middle">0</text>
<text x="343.6" y="342.9" font-size="9.50" text-anchor="middle">0</text>
<text x="382.0" y="334.1" font-size="9.50" text-anchor="middle">1000</text>
<text x="411.5" y="325.2" font-size="9.50" text-anchor="middle">2000</text>
<text x="441.6" y="316.4" font-size="9.50" text-anchor="middle">3000</text>
<text transform="translate(238.2,259.0) rotate(-90)" x="0" y="0" font-size="9.60" text-anchor="middle" textLength="40.0" lengthAdjust="spacingAndGlyphs">RMSE(m)</text>
<text x="241.5" y="333.9" font-size="9.50" textLength="72.7" lengthAdjust="spacingAndGlyphs">Measurement error</text>
<text x="402.6" y="347.8" font-size="9.50" text-anchor="middle">R(m)</text>
<rect x="275.5" y="203.3" width="37.7" height="11.8" fill="#fff" stroke="#b0b0b0" stroke-width="0.7"/>
<rect x="277.2" y="205.5" width="16.5" height="7.0" fill="#1cc060" stroke="#333" stroke-width="0.4"/>
<text x="294.8" y="212.7" font-size="9.50" textLength="16.2" lengthAdjust="spacingAndGlyphs">CSA</text>
<text x="323.3" y="367.4" font-size="11.00" textLength="33.5" lengthAdjust="spacingAndGlyphs">(<tspan font-weight="bold">f</tspan>) CSA</text>
<line x1="42.3" y1="408.2" x2="126.7" y2="384.5" stroke="#e8e8e8" stroke-width="0.6"/>
<line x1="126.7" y1="384.5" x2="191.7" y2="416.2" stroke="#e8e8e8" stroke-width="0.6"/>
<line x1="42.3" y1="439.2" x2="126.7" y2="415.5" stroke="#e8e8e8" stroke-width="0.6"/>
<line x1="126.7" y1="415.5" x2="191.7" y2="447.2" stroke="#e8e8e8" stroke-width="0.6"/>
<line x1="42.3" y1="469.8" x2="126.7" y2="446.1" stroke="#e8e8e8" stroke-width="0.6"/>
<line x1="126.7" y1="446.1" x2="191.7" y2="477.8" stroke="#e8e8e8" stroke-width="0.6"/>
<line x1="42.3" y1="479.6" x2="42.3" y2="407.5" stroke="#e8e8e8" stroke-width="0.6"/>
<line x1="107.3" y1="511.3" x2="42.3" y2="479.6" stroke="#e8e8e8" stroke-width="0.6"/>
<line x1="70.4" y1="471.7" x2="70.4" y2="399.6" stroke="#e8e8e8" stroke-width="0.6"/>
<line x1="135.4" y1="503.4" x2="70.4" y2="471.7" stroke="#e8e8e8" stroke-width="0.6"/>
<line x1="98.6" y1="463.8" x2="98.6" y2="391.7" stroke="#e8e8e8" stroke-width="0.6"/>
<line x1="163.6" y1="495.5" x2="98.6" y2="463.8" stroke="#e8e8e8" stroke-width="0.6"/>
<line x1="126.7" y1="455.9" x2="126.7" y2="383.8" stroke="#e8e8e8" stroke-width="0.6"/>
<line x1="191.7" y1="487.6" x2="126.7" y2="455.9" stroke="#e8e8e8" stroke-width="0.6"/>
<line x1="191.7" y1="487.6" x2="191.7" y2="415.5" stroke="#e8e8e8" stroke-width="0.6"/>
<line x1="107.3" y1="511.3" x2="191.7" y2="487.6" stroke="#e8e8e8" stroke-width="0.6"/>
<line x1="136.4" y1="460.7" x2="136.4" y2="388.6" stroke="#e8e8e8" stroke-width="0.6"/>
<line x1="52.0" y1="484.4" x2="136.4" y2="460.7" stroke="#e8e8e8" stroke-width="0.6"/>
<line x1="42.3" y1="407.5" x2="42.3" y2="479.6" stroke="#6a6a6a" stroke-width="0.6"/>
<line x1="42.3" y1="479.6" x2="107.3" y2="511.3" stroke="#6a6a6a" stroke-width="0.6"/>
<line x1="107.3" y1="511.3" x2="191.7" y2="487.6" stroke="#6a6a6a" stroke-width="0.6"/>
<line x1="42.3" y1="408.2" x2="40.8" y2="408.2" stroke="#6a6a6a" stroke-width="0.6"/>
<line x1="42.3" y1="439.2" x2="40.8" y2="439.2" stroke="#6a6a6a" stroke-width="0.6"/>
<line x1="42.3" y1="469.8" x2="40.8" y2="469.8" stroke="#6a6a6a" stroke-width="0.6"/>
<line x1="107.3" y1="511.3" x2="109.1" y2="512.2" stroke="#6a6a6a" stroke-width="0.6"/>
<line x1="135.4" y1="503.4" x2="137.2" y2="504.3" stroke="#6a6a6a" stroke-width="0.6"/>
<line x1="163.6" y1="495.5" x2="165.4" y2="496.4" stroke="#6a6a6a" stroke-width="0.6"/>
<line x1="191.7" y1="487.6" x2="193.5" y2="488.5" stroke="#6a6a6a" stroke-width="0.6"/>
<line x1="107.3" y1="511.3" x2="105.4" y2="511.8" stroke="#6a6a6a" stroke-width="0.6"/>
<line x1="52.0" y1="484.4" x2="50.1" y2="484.9" stroke="#6a6a6a" stroke-width="0.6"/>
<polygon points="112.5,389.4 123.3,394.8 137.2,452.6 126.4,447.2" fill="#f2ee10" stroke="#222" stroke-width="0.45" stroke-linejoin="round"/>
<polygon points="123.3,394.8 134.0,400.1 147.9,457.9 137.2,452.6" fill="#f2ee10" stroke="#222" stroke-width="0.45" stroke-linejoin="round"/>
<polygon points="134.0,400.1 144.8,405.5 158.7,463.3 147.9,457.9" fill="#f2ee10" stroke="#222" stroke-width="0.45" stroke-linejoin="round"/>
<polygon points="144.8,405.5 155.5,410.8 169.4,468.6 158.7,463.3" fill="#f2ee10" stroke="#222" stroke-width="0.45" stroke-linejoin="round"/>
<polygon points="155.5,410.8 166.3,416.2 180.2,474.0 169.4,468.6" fill="#f2ee10" stroke="#222" stroke-width="0.45" stroke-linejoin="round"/>
<polygon points="98.7,422.4 109.5,427.8 123.3,394.8 112.5,389.4" fill="#1ac88a" stroke="#222" stroke-width="0.45" stroke-linejoin="round"/>
<polygon points="109.5,427.8 120.2,433.1 134.0,400.1 123.3,394.8" fill="#1ac88a" stroke="#222" stroke-width="0.45" stroke-linejoin="round"/>
<polygon points="120.2,433.1 131.0,438.5 144.8,405.5 134.0,400.1" fill="#1ac88a" stroke="#222" stroke-width="0.45" stroke-linejoin="round"/>
<polygon points="131.0,438.5 141.7,443.8 155.5,410.8 144.8,405.5" fill="#1ac88a" stroke="#222" stroke-width="0.45" stroke-linejoin="round"/>
<polygon points="141.7,443.8 152.5,449.2 166.3,416.2 155.5,410.8" fill="#1ac88a" stroke="#222" stroke-width="0.45" stroke-linejoin="round"/>
<polygon points="85.0,426.8 95.8,432.2 109.5,427.8 98.7,422.4" fill="#1ac88a" stroke="#222" stroke-width="0.45" stroke-linejoin="round"/>
<polygon points="95.8,432.2 106.5,437.5 120.2,433.1 109.5,427.8" fill="#1ac88a" stroke="#222" stroke-width="0.45" stroke-linejoin="round"/>
<polygon points="106.5,437.5 117.3,442.9 131.0,438.5 120.2,433.1" fill="#1ac88a" stroke="#222" stroke-width="0.45" stroke-linejoin="round"/>
<polygon points="117.3,442.9 128.0,448.2 141.7,443.8 131.0,438.5" fill="#1ac88a" stroke="#222" stroke-width="0.45" stroke-linejoin="round"/>
<polygon points="128.0,448.2 138.8,453.6 152.5,449.2 141.7,443.8" fill="#1ac88a" stroke="#222" stroke-width="0.45" stroke-linejoin="round"/>
<polygon points="71.2,451.0 82.0,456.4 95.8,432.2 85.0,426.8" fill="#1a84f0" stroke="#222" stroke-width="0.45" stroke-linejoin="round"/>
<polygon points="82.0,456.4 92.7,461.7 106.5,437.5 95.8,432.2" fill="#1a84f0" stroke="#222" stroke-width="0.45" stroke-linejoin="round"/>
<polygon points="92.7,461.7 103.5,467.1 117.3,442.9 106.5,437.5" fill="#1a84f0" stroke="#222" stroke-width="0.45" stroke-linejoin="round"/>
<polygon points="103.5,467.1 114.2,472.4 128.0,448.2 117.3,442.9" fill="#1a84f0" stroke="#222" stroke-width="0.45" stroke-linejoin="round"/>
<polygon points="114.2,472.4 125.0,477.8 138.8,453.6 128.0,448.2" fill="#1a84f0" stroke="#222" stroke-width="0.45" stroke-linejoin="round"/>
<polygon points="57.3,475.2 68.1,480.6 82.0,456.4 71.2,451.0" fill="#3f28ae" stroke="#222" stroke-width="0.45" stroke-linejoin="round"/>
<polygon points="68.1,480.6 78.8,485.9 92.7,461.7 82.0,456.4" fill="#3f28ae" stroke="#222" stroke-width="0.45" stroke-linejoin="round"/>
<polygon points="78.8,485.9 89.6,491.3 103.5,467.1 92.7,461.7" fill="#3f28ae" stroke="#222" stroke-width="0.45" stroke-linejoin="round"/>
<polygon points="89.6,491.3 100.3,496.6 114.2,472.4 103.5,467.1" fill="#3f28ae" stroke="#222" stroke-width="0.45" stroke-linejoin="round"/>
<polygon points="100.3,496.6 111.1,502.0 125.0,477.8 114.2,472.4" fill="#3f28ae" stroke="#222" stroke-width="0.45" stroke-linejoin="round"/>
<text x="37.9" y="411.1" font-size="8.70" text-anchor="end">19.95</text>
<text x="37.9" y="442.4" font-size="8.70" text-anchor="end">19.9</text>
<text x="38.3" y="472.7" font-size="8.70" text-anchor="end">19.85</text>
<text x="42.3" y="494.7" font-size="8.70" text-anchor="middle">0.5</text>
<text x="99.9" y="521.6" font-size="8.70" text-anchor="middle">0</text>
<text x="113.5" y="522.1" font-size="8.70" text-anchor="middle">0</text>
<text x="149.0" y="514.2" font-size="8.70" text-anchor="middle">1000</text>
<text x="176.1" y="505.8" font-size="8.70" text-anchor="middle">2000</text>
<text x="204.1" y="497.4" font-size="8.70" text-anchor="middle">3000</text>
<text transform="translate(14.1,444.0) rotate(-90)" x="0" y="0" font-size="9.60" text-anchor="middle" textLength="40.0" lengthAdjust="spacingAndGlyphs">RMSE(m)</text>
<text x="12.7" y="516.2" font-size="9.90" textLength="75.3" lengthAdjust="spacingAndGlyphs">Measurement error</text>
<text x="169.9" y="528.1" font-size="9.50" text-anchor="middle">R(m)</text>
<rect x="47.3" y="392.3" width="40.9" height="10.5" fill="#fff" stroke="#b0b0b0" stroke-width="0.7"/>
<rect x="49.0" y="394.5" width="15.4" height="6.6" fill="#18a8dc" stroke="#333" stroke-width="0.4"/>
<text x="64.8" y="400.6" font-size="8.00" textLength="21.7" lengthAdjust="spacingAndGlyphs">CCSA</text>
<text x="87.2" y="544.6" font-size="11.00" textLength="43.0" lengthAdjust="spacingAndGlyphs">(<tspan font-weight="bold">g</tspan>) CCSA</text>
<line x1="270.4" y1="417.9" x2="359.6" y2="392.2" stroke="#e8e8e8" stroke-width="0.6"/>
<line x1="359.6" y1="392.2" x2="426.3" y2="426.0" stroke="#e8e8e8" stroke-width="0.6"/>
<line x1="270.4" y1="437.7" x2="359.6" y2="412.0" stroke="#e8e8e8" stroke-width="0.6"/>
<line x1="359.6" y1="412.0" x2="426.3" y2="445.8" stroke="#e8e8e8" stroke-width="0.6"/>
<line x1="270.4" y1="457.4" x2="359.6" y2="431.7" stroke="#e8e8e8" stroke-width="0.6"/>
<line x1="359.6" y1="431.7" x2="426.3" y2="465.5" stroke="#e8e8e8" stroke-width="0.6"/>
<line x1="270.4" y1="477.0" x2="270.4" y2="402.6" stroke="#e8e8e8" stroke-width="0.6"/>
<line x1="337.1" y1="510.8" x2="270.4" y2="477.0" stroke="#e8e8e8" stroke-width="0.6"/>
<line x1="300.1" y1="468.4" x2="300.1" y2="394.0" stroke="#e8e8e8" stroke-width="0.6"/>
<line x1="366.8" y1="502.2" x2="300.1" y2="468.4" stroke="#e8e8e8" stroke-width="0.6"/>
<line x1="329.9" y1="459.9" x2="329.9" y2="385.5" stroke="#e8e8e8" stroke-width="0.6"/>
<line x1="396.6" y1="493.7" x2="329.9" y2="459.9" stroke="#e8e8e8" stroke-width="0.6"/>
<line x1="359.6" y1="451.3" x2="359.6" y2="376.9" stroke="#e8e8e8" stroke-width="0.6"/>
<line x1="426.3" y1="485.1" x2="359.6" y2="451.3" stroke="#e8e8e8" stroke-width="0.6"/>
<line x1="426.3" y1="485.1" x2="426.3" y2="410.7" stroke="#e8e8e8" stroke-width="0.6"/>
<line x1="337.1" y1="510.8" x2="426.3" y2="485.1" stroke="#e8e8e8" stroke-width="0.6"/>
<line x1="369.6" y1="456.4" x2="369.6" y2="382.0" stroke="#e8e8e8" stroke-width="0.6"/>
<line x1="280.4" y1="482.1" x2="369.6" y2="456.4" stroke="#e8e8e8" stroke-width="0.6"/>
<line x1="270.4" y1="402.6" x2="270.4" y2="477.0" stroke="#6a6a6a" stroke-width="0.6"/>
<line x1="270.4" y1="477.0" x2="337.1" y2="510.8" stroke="#6a6a6a" stroke-width="0.6"/>
<line x1="337.1" y1="510.8" x2="426.3" y2="485.1" stroke="#6a6a6a" stroke-width="0.6"/>
<line x1="270.4" y1="417.9" x2="268.9" y2="417.9" stroke="#6a6a6a" stroke-width="0.6"/>
<line x1="270.4" y1="437.7" x2="268.9" y2="437.7" stroke="#6a6a6a" stroke-width="0.6"/>
<line x1="270.4" y1="457.4" x2="268.9" y2="457.4" stroke="#6a6a6a" stroke-width="0.6"/>
<line x1="337.1" y1="510.8" x2="338.9" y2="511.7" stroke="#6a6a6a" stroke-width="0.6"/>
<line x1="366.8" y1="502.2" x2="368.6" y2="503.1" stroke="#6a6a6a" stroke-width="0.6"/>
<line x1="396.6" y1="493.7" x2="398.4" y2="494.6" stroke="#6a6a6a" stroke-width="0.6"/>
<line x1="426.3" y1="485.1" x2="428.1" y2="486.0" stroke="#6a6a6a" stroke-width="0.6"/>
<line x1="337.1" y1="510.8" x2="335.2" y2="511.4" stroke="#6a6a6a" stroke-width="0.6"/>
<line x1="280.4" y1="482.1" x2="278.5" y2="482.6" stroke="#6a6a6a" stroke-width="0.6"/>
<polygon points="343.5,454.8 354.7,460.2 368.7,383.8 357.5,378.4" fill="#482cb8" stroke="#222" stroke-width="0.45" stroke-linejoin="round"/>
<polygon points="354.7,460.2 365.8,465.6 379.8,389.2 368.7,383.8" fill="#482cb8" stroke="#222" stroke-width="0.45" stroke-linejoin="round"/>
<polygon points="365.8,465.6 377.0,470.9 391.0,394.5 379.8,389.2" fill="#482cb8" stroke="#222" stroke-width="0.45" stroke-linejoin="round"/>
<polygon points="377.0,470.9 388.1,476.3 402.1,399.9 391.0,394.5" fill="#482cb8" stroke="#222" stroke-width="0.45" stroke-linejoin="round"/>
<polygon points="388.1,476.3 399.3,481.7 413.3,405.3 402.1,399.9" fill="#482cb8" stroke="#222" stroke-width="0.45" stroke-linejoin="round"/>
<polygon points="328.3,460.1 339.5,465.5 354.7,460.2 343.5,454.8" fill="#4a2eba" stroke="#222" stroke-width="0.45" stroke-linejoin="round"/>
<polygon points="339.5,465.5 350.6,470.9 365.8,465.6 354.7,460.2" fill="#4a2eba" stroke="#222" stroke-width="0.45" stroke-linejoin="round"/>
<polygon points="350.6,470.9 361.8,476.2 377.0,470.9 365.8,465.6" fill="#4a2eba" stroke="#222" stroke-width="0.45" stroke-linejoin="round"/>
<polygon points="361.8,476.2 372.9,481.6 388.1,476.3 377.0,470.9" fill="#4a2eba" stroke="#222" stroke-width="0.45" stroke-linejoin="round"/>
<polygon points="372.9,481.6 384.1,487.0 399.3,481.7 388.1,476.3" fill="#4a2eba" stroke="#222" stroke-width="0.45" stroke-linejoin="round"/>
<polygon points="314.7,398.0 325.9,403.4 339.5,465.5 328.3,460.1" fill="#f8d200" stroke="#222" stroke-width="0.45" stroke-linejoin="round"/>
<polygon points="325.9,403.4 337.0,408.8 350.6,470.9 339.5,465.5" fill="#f8d200" stroke="#222" stroke-width="0.45" stroke-linejoin="round"/>
<polygon points="337.0,408.8 348.2,414.1 361.8,476.2 350.6,470.9" fill="#f8d200" stroke="#222" stroke-width="0.45" stroke-linejoin="round"/>
<polygon points="348.2,414.1 359.3,419.5 372.9,481.6 361.8,476.2" fill="#f8d200" stroke="#222" stroke-width="0.45" stroke-linejoin="round"/>
<polygon points="359.3,419.5 370.5,424.9 384.1,487.0 372.9,481.6" fill="#f8d200" stroke="#222" stroke-width="0.45" stroke-linejoin="round"/>
<polygon points="298.8,440.0 310.0,445.4 325.9,403.4 314.7,398.0" fill="#14acdc" stroke="#222" stroke-width="0.45" stroke-linejoin="round"/>
<polygon points="310.0,445.4 321.1,450.8 337.0,408.8 325.9,403.4" fill="#14acdc" stroke="#222" stroke-width="0.45" stroke-linejoin="round"/>
<polygon points="321.1,450.8 332.3,456.1 348.2,414.1 337.0,408.8" fill="#14acdc" stroke="#222" stroke-width="0.45" stroke-linejoin="round"/>
<polygon points="332.3,456.1 343.4,461.5 359.3,419.5 348.2,414.1" fill="#14acdc" stroke="#222" stroke-width="0.45" stroke-linejoin="round"/>
<polygon points="343.4,461.5 354.6,466.9 370.5,424.9 359.3,419.5" fill="#14acdc" stroke="#222" stroke-width="0.45" stroke-linejoin="round"/>
<polygon points="284.8,461.6 296.0,467.0 310.0,445.4 298.8,440.0" fill="#3c52ec" stroke="#222" stroke-width="0.45" stroke-linejoin="round"/>
<polygon points="296.0,467.0 307.1,472.4 321.1,450.8 310.0,445.4" fill="#3c52ec" stroke="#222" stroke-width="0.45" stroke-linejoin="round"/>
<polygon points="307.1,472.4 318.3,477.7 332.3,456.1 321.1,450.8" fill="#3c52ec" stroke="#222" stroke-width="0.45" stroke-linejoin="round"/>
<polygon points="318.3,477.7 329.4,483.1 343.4,461.5 332.3,456.1" fill="#3c52ec" stroke="#222" stroke-width="0.45" stroke-linejoin="round"/>
<polygon points="329.4,483.1 340.6,488.5 354.6,466.9 343.4,461.5" fill="#3c52ec" stroke="#222" stroke-width="0.45" stroke-linejoin="round"/>
<text x="265.4" y="420.9" font-size="9.00" text-anchor="end">16.6</text>
<text x="265.4" y="440.8" font-size="9.00" text-anchor="end">16.55</text>
<text x="265.3" y="460.2" font-size="9.00" text-anchor="end">16.5</text>
<text x="270.6" y="492.7" font-size="9.00" text-anchor="middle">0.5</text>
<text x="330.6" y="521.0" font-size="9.00" text-anchor="middle">0</text>
<text x="344.2" y="521.4" font-size="9.00" text-anchor="middle">0</text>
<text x="380.5" y="513.2" font-size="9.00" text-anchor="middle">1000</text>
<text x="410.0" y="504.3" font-size="9.00" text-anchor="middle">2000</text>
<text x="439.5" y="495.5" font-size="9.00" text-anchor="middle">3000</text>
<text transform="translate(241.1,440.0) rotate(-90)" x="0" y="0" font-size="10.10" text-anchor="middle" textLength="42.2" lengthAdjust="spacingAndGlyphs">RMSE(m)</text>
<text x="245.0" y="516.1" font-size="10.30" textLength="78.5" lengthAdjust="spacingAndGlyphs">Measurement error</text>
<text x="402.6" y="527.3" font-size="10.00" text-anchor="middle">R(m)</text>
<rect x="250.5" y="376.0" width="77.1" height="14.3" fill="#fff" stroke="#b0b0b0" stroke-width="0.7"/>
<rect x="263.1" y="378.7" width="16.0" height="9.4" fill="#12a6e0" stroke="#333" stroke-width="0.4"/>
<text x="280.2" y="386.7" font-size="9.00" textLength="34.2" lengthAdjust="spacingAndGlyphs">PSO-CSA</text>
<text x="311.0" y="544.1" font-size="11.00" textLength="57.7" lengthAdjust="spacingAndGlyphs">(<tspan font-weight="bold">h</tspan>) PSO-CSA</text>
</svg></body></html>
